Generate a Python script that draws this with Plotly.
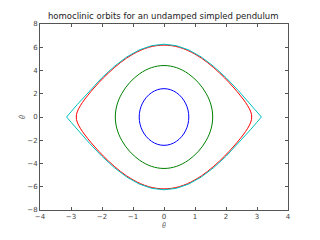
import plotly.graph_objects as go

# Upper-right quarter of each orbit (theta >= 0, omega >= 0)
blue_theta = [0.8, 0.773, 0.693, 0.566, 0.4, 0.207, 0.0]
blue_omega = [0.0, 0.615, 1.194, 1.700, 2.097, 2.351, 2.438]

green_theta = [1.571, 1.517, 1.360, 1.111, 0.785, 0.407, 0.0]
green_omega = [0.0, 1.027, 2.025, 2.949, 3.723, 4.243, 4.427]

red_theta = [2.83, 2.8, 2.7, 2.55, 2.35, 2.1, 1.8, 1.4, 1.0, 0.5, 0.0]
red_omega = [0.0, 0.434, 0.968, 1.545, 2.210, 2.960, 3.769, 4.689, 5.408, 5.988, 6.185]

cyan_theta = [3.1416, 3.0, 2.8, 2.4, 2.0, 1.6, 1.2, 0.8, 0.4, 0.0]
cyan_omega = [0.0, 0.443, 1.064, 2.269, 3.383, 4.362, 5.167, 5.767, 6.136, 6.261]

series = [
    (blue_theta, blue_omega, "#0000ff", "spline"),
    (green_theta, green_omega, "#008000", "spline"),
    (red_theta, red_omega, "#ff0000", "spline"),
    (cyan_theta, cyan_omega, "#00bfbf", "linear"),
]


def closed_loop(th, om):
    # quarter -> full symmetric orbit
    q1x = list(th)
    q1y = list(om)
    q2x = [-v for v in reversed(th)][1:]
    q2y = list(reversed(om))[1:]
    q3x = [-v for v in th][1:]
    q3y = [-v for v in om][1:]
    q4x = list(reversed(th))[1:]
    q4y = [-v for v in reversed(om)][1:]
    return q1x + q2x + q3x + q4x, q1y + q2y + q3y + q4y


fig = go.Figure()
for th, om, col, shape in series:
    x, y = closed_loop(th, om)
    fig.add_trace(go.Scatter(x=x, y=y, mode="lines",
                             line=dict(color=col, width=1, shape=shape),
                             showlegend=False, hoverinfo="skip"))

axis_common = dict(showline=True, linecolor="#555555", linewidth=1, mirror="ticks",
                   ticks="inside", ticklen=3, tickcolor="#555555", showgrid=False,
                   zeroline=False, tickfont=dict(size=7, color="#444444", family="DejaVu Sans"))

fig.update_layout(
    width=320, height=240,
    margin=dict(l=40, r=32, t=24, b=24),
    paper_bgcolor="white", plot_bgcolor="white",
    title=dict(text="homoclinic orbits for an undamped simpled pendulum",
               x=0.51, xanchor="center", y=0.922, yanchor="bottom",
               font=dict(size=8.5, color="#222222", family="DejaVu Sans")),
    xaxis=dict(range=[-4, 4], tickvals=[-4, -3, -2, -1, 0, 1, 2, 3, 4],
               ticktext=["\u22124", "\u22123", "\u22122", "\u22121", "0", "1", "2", "3", "4"],
               title=dict(text="<i>θ</i>", font=dict(size=7, color="#555555"), standoff=2),
               **axis_common),
    yaxis=dict(range=[-8, 8], tickvals=[-8, -6, -4, -2, 0, 2, 4, 6, 8],
               ticktext=["\u22128", "\u22126", "\u22124", "\u22122", "0", "2", "4", "6", "8"],
               title=dict(text="<i>θ\u0307</i>", font=dict(size=7, color="#555555"), standoff=0),
               **axis_common),
)

fig.write_html("out.html")
